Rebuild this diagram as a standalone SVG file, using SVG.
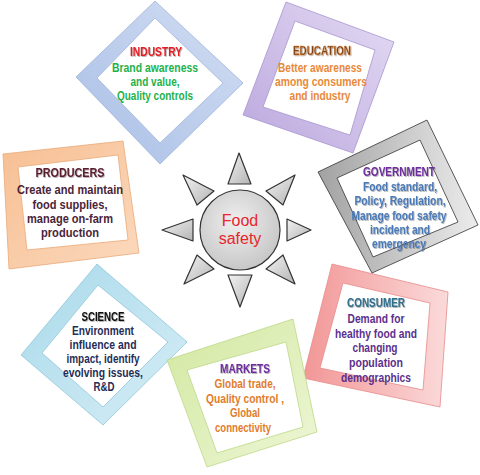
<svg xmlns="http://www.w3.org/2000/svg" width="480" height="475" viewBox="0 0 480 475">
<defs>
<filter id="sh" x="-10%" y="-30%" width="120%" height="160%">
<feDropShadow dx="0.8" dy="0.8" stdDeviation="0.6" flood-color="#000" flood-opacity="0.35"/>
</filter>
<linearGradient id="gInd" x1="0" y1="1" x2="1" y2="0"><stop offset="0" stop-color="#a9bfe6"/><stop offset="1" stop-color="#d3def3"/></linearGradient>
<linearGradient id="gEdu" x1="0" y1="1" x2="1" y2="0"><stop offset="0" stop-color="#bba7de"/><stop offset="1" stop-color="#e4dbf3"/></linearGradient>
<linearGradient id="gGov" x1="0" y1="0" x2="1" y2="0"><stop offset="0" stop-color="#a2a2a2"/><stop offset="1" stop-color="#ececec"/></linearGradient>
<linearGradient id="gCon" x1="0" y1="0" x2="1" y2="0"><stop offset="0" stop-color="#f29696"/><stop offset="1" stop-color="#fbdada"/></linearGradient>
<linearGradient id="gMar" x1="0" y1="0" x2="1" y2="1"><stop offset="0" stop-color="#d2e8a0"/><stop offset="1" stop-color="#eef6d6"/></linearGradient>
<linearGradient id="gSci" x1="0" y1="0" x2="1" y2="1"><stop offset="0" stop-color="#a9d9ea"/><stop offset="1" stop-color="#d6eef6"/></linearGradient>
<linearGradient id="gPro" x1="0" y1="0" x2="1" y2="1"><stop offset="0" stop-color="#f7bf93"/><stop offset="1" stop-color="#fbd9bd"/></linearGradient>
<linearGradient id="gTri" x1="0" y1="0" x2="1" y2="1"><stop offset="0" stop-color="#f2f2f2"/><stop offset="1" stop-color="#b4b4b4"/></linearGradient>
<radialGradient id="gSun" cx="0.45" cy="0.4" r="0.65"><stop offset="0" stop-color="#efefef"/><stop offset="1" stop-color="#c4c4c4"/></radialGradient>
</defs>
<style>
.frame{fill-rule:evenodd;stroke-width:0.8}
.t{font-family:"Liberation Sans",Arial,sans-serif;font-weight:bold;font-size:13px;text-anchor:middle}
.h{filter:url(#sh)}
.tri{fill:url(#gTri);stroke:#333;stroke-width:1.2;stroke-linejoin:round}
</style>
<rect width="480" height="475" fill="#fff"/>
<g id="connectors"/>
<g id="industry">
<path class="frame" fill="url(#gInd)" stroke="#9fb4da" d="M155,1 L243,83 L160,164 L76,77 Z M155,18 L97,78 L160,143 L223,83 Z"/>
<text class="t h" x="156" y="56" fill="#e31e24" textLength="52" lengthAdjust="spacingAndGlyphs">INDUSTRY</text>
<text class="t" x="155" y="72" fill="#1db24b" textLength="86" lengthAdjust="spacingAndGlyphs">Brand  awareness</text>
<text class="t" x="155" y="86" fill="#1db24b" textLength="49" lengthAdjust="spacingAndGlyphs">and value,</text>
<text class="t" x="155" y="100" fill="#1db24b" textLength="76" lengthAdjust="spacingAndGlyphs">Quality controls</text>
</g>
<g id="education">
<path class="frame" fill="url(#gEdu)" stroke="#a795cf" d="M286,2 L394,42 L353,153 L243,115 Z M295,21 L263,107 L350,135 L375,50 Z"/>
<text class="t h" x="322" y="55" fill="#7f3f14" stroke="#e59a55" stroke-width="0.4" textLength="58" lengthAdjust="spacingAndGlyphs">EDUCATION</text>
<text class="t" x="320" y="72" fill="#e8893a" textLength="84" lengthAdjust="spacingAndGlyphs">Better awareness</text>
<text class="t" x="321" y="86" fill="#e8893a" textLength="92" lengthAdjust="spacingAndGlyphs">among consumers</text>
<text class="t" x="320" y="100" fill="#e8893a" textLength="61" lengthAdjust="spacingAndGlyphs">and industry</text>
</g>
<g id="consumer">
<path class="frame" fill="url(#gCon)" stroke="#e98a8a" d="M332,264 L448,292 L440,407 L303,378 Z M343,283 L320,368 L423,390 L430,303 Z"/>
<text class="t h" x="376" y="307" fill="#2f6e8c" textLength="58" lengthAdjust="spacingAndGlyphs">CONSUMER</text>
<text class="t" x="376" y="323" fill="#5c2f8d" textLength="57" lengthAdjust="spacingAndGlyphs">Demand for</text>
<text class="t" x="376" y="338" fill="#5c2f8d" textLength="82" lengthAdjust="spacingAndGlyphs">healthy food and</text>
<text class="t" x="375" y="352" fill="#5c2f8d" textLength="45" lengthAdjust="spacingAndGlyphs">changing</text>
<text class="t" x="376" y="367" fill="#5c2f8d" textLength="54" lengthAdjust="spacingAndGlyphs">population</text>
<text class="t" x="376" y="382" fill="#5c2f8d" textLength="70" lengthAdjust="spacingAndGlyphs">demographics</text>
</g>
<g id="government">
<path class="frame" fill="url(#gGov)" stroke="#333" stroke-width="1" d="M427,120 L478,225 L372,273 L318,172 Z M420,140 L337,178 L373,257 L458,222 Z"/>
<text class="t h" x="399" y="176" fill="#6d2f9c" textLength="72" lengthAdjust="spacingAndGlyphs">GOVERNMENT</text>
<text class="t h" x="400" y="191" fill="#4a7ab8" textLength="74" lengthAdjust="spacingAndGlyphs">Food standard,</text>
<text class="t h" x="400" y="205" fill="#4a7ab8" textLength="91" lengthAdjust="spacingAndGlyphs">Policy, Regulation,</text>
<text class="t h" x="399" y="220" fill="#4a7ab8" textLength="95" lengthAdjust="spacingAndGlyphs">Manage food safety</text>
<text class="t h" x="400" y="234" fill="#4a7ab8" textLength="60" lengthAdjust="spacingAndGlyphs">incident and</text>
<text class="t h" x="399" y="248" fill="#4a7ab8" textLength="54" lengthAdjust="spacingAndGlyphs">emergency</text>
</g>
<g id="producers">
<path class="frame" fill="url(#gPro)" stroke="#eaa978" d="M3,154 L123,141 L139,253 L9,269 Z M18,167 L27,250 L128,240 L118,155 Z"/>
<text class="t h" x="70" y="177" fill="#5b1b2e" textLength="69" lengthAdjust="spacingAndGlyphs">PRODUCERS</text>
<text class="t" x="70" y="194" fill="#4a2438" textLength="106" lengthAdjust="spacingAndGlyphs">Create and maintain</text>
<text class="t" x="70" y="209" fill="#4a2438" textLength="75" lengthAdjust="spacingAndGlyphs">food supplies,</text>
<text class="t" x="70" y="223" fill="#4a2438" textLength="86" lengthAdjust="spacingAndGlyphs">manage on-farm</text>
<text class="t" x="70" y="237" fill="#4a2438" textLength="58" lengthAdjust="spacingAndGlyphs">production</text>
</g>
<g id="science">
<path class="frame" fill="url(#gSci)" stroke="#8fc6da" d="M97,264 L187,342 L103,425 L21,355 Z M98,285 L42,353 L103,407 L168,342 Z"/>
<text class="t h" x="103" y="321" fill="#111" textLength="43" lengthAdjust="spacingAndGlyphs">SCIENCE</text>
<text class="t" x="103" y="335" fill="#1f2d58" textLength="62" lengthAdjust="spacingAndGlyphs">Environment</text>
<text class="t" x="103" y="349" fill="#1f2d58" textLength="67" lengthAdjust="spacingAndGlyphs">influence and</text>
<text class="t" x="103" y="363" fill="#1f2d58" textLength="73" lengthAdjust="spacingAndGlyphs">impact, identify</text>
<text class="t" x="103" y="377" fill="#1f2d58" textLength="80" lengthAdjust="spacingAndGlyphs">evolving issues,</text>
<text class="t" x="104" y="391" fill="#1f2d58" textLength="21" lengthAdjust="spacingAndGlyphs">R&amp;D</text>
</g>
<g id="markets">
<path class="frame" fill="url(#gMar)" stroke="#bcd888" d="M167,360 L293,319 L317,432 L207,467 Z M187,370 L217,453 L303,427 L286,342 Z"/>
<text class="t h" x="245" y="373" fill="#6e2fa0" textLength="50" lengthAdjust="spacingAndGlyphs">MARKETS</text>
<text class="t" x="245" y="388" fill="#df7c2c" textLength="61" lengthAdjust="spacingAndGlyphs">Global trade,</text>
<text class="t" x="245" y="403" fill="#df7c2c" textLength="78" lengthAdjust="spacingAndGlyphs">Quality control ,</text>
<text class="t" x="245" y="417" fill="#df7c2c" textLength="30" lengthAdjust="spacingAndGlyphs">Global</text>
<text class="t" x="243" y="432" fill="#df7c2c" textLength="56" lengthAdjust="spacingAndGlyphs">connectivity</text>
</g>
<g id="food-safety">
<polygon class="tri" points="239,153 251,184 228,184"/>
<polygon class="tri" points="240,307 228,275 252,275"/>
<polygon class="tri" points="162,230 193,219 193,241"/>
<polygon class="tri" points="311,230 287,219 287,241"/>
<polygon class="tri" points="183,175 214,191 197,205"/>
<polygon class="tri" points="295,175 283,205 266,191"/>
<polygon class="tri" points="184,284 197,255 214,269"/>
<polygon class="tri" points="295,284 266,269 283,255"/>
<circle cx="240" cy="230" r="40" fill="url(#gSun)" stroke="#333" stroke-width="1.2"/>
<text x="240" y="226" font-family="'Liberation Sans',Arial,sans-serif" font-size="16" fill="#e8262b" text-anchor="middle">Food</text>
<text x="240" y="244" font-family="'Liberation Sans',Arial,sans-serif" font-size="16" fill="#e8262b" text-anchor="middle">safety</text>
</g>
</svg>
